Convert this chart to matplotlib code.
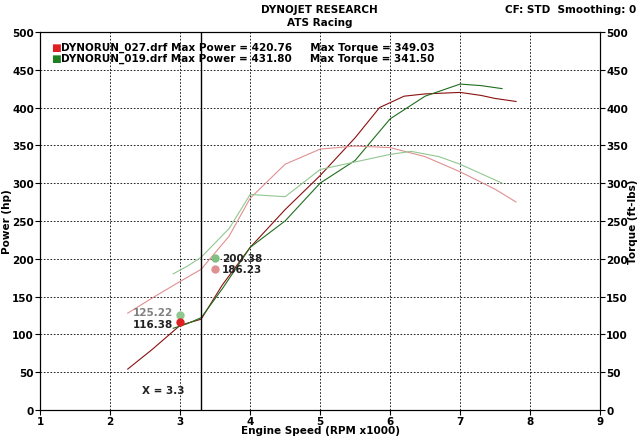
import matplotlib
matplotlib.use("Agg")
import matplotlib.pyplot as plt

# run 027 (red) and 019 (green), rpm x1000
rpm_p27 = [2.25, 2.6, 3.0, 3.3, 3.6, 4.0, 4.5, 5.0, 5.5, 5.85, 6.2, 6.5, 7.0, 7.3, 7.5, 7.8]
hp_p27 = [54, 80, 112, 120, 165, 215, 265, 310, 360, 400, 415, 418, 420, 416, 412, 408]
rpm_p19 = [2.9, 3.1, 3.3, 3.6, 4.0, 4.5, 5.0, 5.5, 6.0, 6.5, 7.0, 7.3, 7.6]
hp_p19 = [108, 114, 122, 160, 215, 250, 300, 330, 385, 415, 431, 429, 425]
rpm_t27 = [2.25, 2.6, 3.0, 3.3, 3.7, 4.0, 4.5, 5.0, 5.5, 6.0, 6.5, 7.0, 7.5, 7.8]
tq_t27 = [128, 148, 170, 186, 230, 280, 325, 345, 349, 347, 335, 315, 292, 275]
rpm_t19 = [2.9, 3.1, 3.3, 3.7, 4.0, 4.5, 5.0, 5.5, 6.0, 6.3, 6.7, 7.0, 7.6]
tq_t19 = [180, 190, 202, 240, 285, 282, 318, 328, 338, 342, 335, 325, 300]

fs = 7.5
fig = plt.figure(figsize=(6.39, 4.39), dpi=100)
ax = fig.add_axes([0.063, 0.064, 0.876, 0.861])
ax.plot(rpm_p27, hp_p27, color="#8b1010", lw=0.8)
ax.plot(rpm_p19, hp_p19, color="#1e6e1e", lw=0.8)
ax.plot(rpm_t27, tq_t27, color="#e09090", lw=0.8)
ax.plot(rpm_t19, tq_t19, color="#90c890", lw=0.8)

ax.axvline(3.3, color="black", lw=1)
ax.plot([3.0], [125.22], "o", color="#90c890", ms=5)
ax.plot([3.0], [116.38], "o", color="#e02020", ms=5)
ax.plot([3.5], [200.38], "o", color="#80c080", ms=5)
ax.plot([3.5], [186.23], "o", color="#e09090", ms=5)
ax.text(2.9, 129, "125.22", color="gray", ha="right", va="center", fontsize=fs, fontweight="bold")
ax.text(2.9, 113, "116.38", color="#222222", ha="right", va="center", fontsize=fs, fontweight="bold")
ax.text(3.6, 201, "200.38", color="#222222", va="center", fontsize=fs, fontweight="bold")
ax.text(3.6, 186, "186.23", color="#222222", va="center", fontsize=fs, fontweight="bold")
ax.text(2.45, 22, "X = 3.3", color="#222222", fontsize=fs, fontweight="bold")

ax.set_xlim(1, 9)
ax.set_ylim(0, 500)
ax.set_xticks(range(1, 10))
ax.set_yticks(range(0, 501, 50))
ax.grid(True, color="black", ls=(0, (2, 2)), lw=0.6)
ax.tick_params(labelsize=fs, pad=1)
for lab in ax.get_xticklabels() + ax.get_yticklabels():
    lab.set_fontweight("bold")
ax2 = ax.twinx()
ax2.set_ylim(0, 500)
ax2.set_yticks(range(0, 501, 50))
ax2.tick_params(labelsize=fs, pad=1)
for lab in ax2.get_yticklabels():
    lab.set_fontweight("bold")

ax.set_xlabel("Engine Speed (RPM x1000)", fontsize=fs, fontweight="bold", labelpad=-1)
ax.set_ylabel("Power (hp)", fontsize=fs, fontweight="bold", labelpad=0)
ax2.set_ylabel("Torque (ft-lbs)", fontsize=fs, fontweight="bold", labelpad=0)

fig.text(0.5, 0.978, "DYNOJET RESEARCH", ha="center", va="center", fontsize=fs, fontweight="bold")
fig.text(0.5, 0.948, "ATS Racing", ha="center", va="center", fontsize=fs, fontweight="bold")
fig.text(0.995, 0.978, "CF: STD  Smoothing: 0", ha="right", va="center", fontsize=fs, fontweight="bold")

ax.text(1.15, 480, "■", color="#e02020", fontsize=fs, va="center")
ax.text(1.15, 466, "■", color="#208020", fontsize=fs, va="center")
ax.text(1.3, 480, "DYNORUN_027.drf Max Power = 420.76     Max Torque = 349.03", fontsize=fs, fontweight="bold", va="center")
ax.text(1.3, 466, "DYNORUN_019.drf Max Power = 431.80     Max Torque = 341.50", fontsize=fs, fontweight="bold", va="center")

fig.savefig("out.png", dpi=100)
